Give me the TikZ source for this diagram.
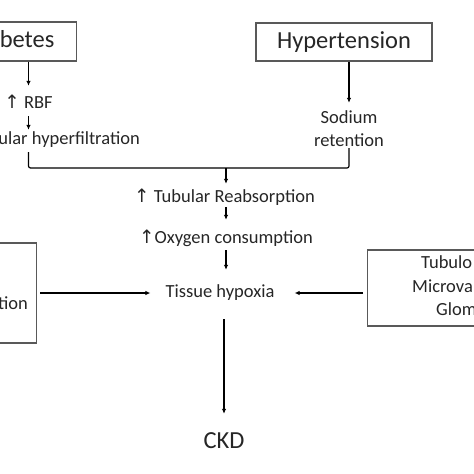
\documentclass[tikz,border=0pt]{standalone}
\usepackage{fontspec}
\setmainfont{Carlito}
\newfontfamily\arrowfont{DejaVu Sans}
\usetikzlibrary{arrows.meta}
\newcommand{\incr}{{\arrowfont ↑}}
\begin{document}
\begin{tikzpicture}[x=1pt, y=-1pt,
    base/.style={font=\fontsize{18.5}{23}\selectfont, inner sep=0pt, text=black!85},
    txt/.style={base, text height=12pt, text depth=4pt},
    big/.style={font=\fontsize{24.5}{29}\selectfont, inner sep=0pt, text height=17pt, text depth=5pt, text=black!85},
    box/.style={draw=black!65, line width=1.1pt},
    arr/.style={-{Latex[length=5pt,width=4.5pt]}, line width=1.2pt},
  ]
    \useasboundingbox (0,0) rectangle (474,474);
    \clip (0,0) rectangle (474,474);
    \node[box, big, anchor=east, minimum height=39pt, text width=75pt, align=right, inner xsep=22pt] (diab) at (77,41.5) {betes};
    \node[box, big, minimum width=176pt, minimum height=38pt] (hyp) at (344,42) {Hypertension};
    \node[txt] (rbf) at (28.5,104) {\incr\ RBF};
    \node[txt, anchor=east] (hf) at (140,140) {ular hyperfiltration};
    \node[base, align=center] (sod) at (349,129) {Sodium\\retention};
    \coordinate (merge) at (226,168);
    \node[txt] (tra) at (224.5,198) {\incr\ Tubular Reabsorption};
    \node[txt] (oxy) at (226,239) {\incr Oxygen consumption};
    \node[txt] (tis) at (220,293) {Tissue hypoxia};
    \node[big] (ckd) at (224,442) {CKD};
    \node[box, minimum width=100pt, minimum height=100pt, anchor=east] (lbox) at (37,293) {};
    \node[txt, anchor=east] (ltxt) at (28,305) {tion};
    \node[box, minimum width=150pt, minimum height=76pt, anchor=west] (rbox) at (367,288) {};
    \node[txt, anchor=west] (tub) at (421,264) {Tubulo};
    \node[txt, anchor=west] (mic) at (412,288) {Microva};
    \node[txt, anchor=west] (glo) at (436,311) {Glom};
    \draw[arr, shorten >=10pt] (diab.south -| rbf) -- (rbf);
    \draw[arr, shorten <=4pt, shorten >=2pt] (rbf) -- (rbf |- hf.north);
    \draw[arr, shorten >=8pt] (hyp.south -| sod) -- (sod);
    \draw[line width=1.2pt, rounded corners=2pt, shorten <=4pt, shorten >=1pt] (rbf |- hf.south) |- (merge) -| (sod);
    \draw[arr, shorten >=6pt] (merge) -- (merge |- tra.north);
    \draw[arr, shorten <=1pt, shorten >=11pt] (oxy |- tra.south) -- (oxy);
    \draw[arr, shorten <=3pt, shorten >=15pt] (oxy) -- (oxy |- tis.north);
    \draw[arr, shorten <=18pt, shorten >=17pt] (ckd |- tis.south) -- (ckd);
    \draw[arr, shorten <=3pt, shorten >=15pt] (lbox.east |- tis) -- (tis);
    \draw[arr, shorten <=4pt, shorten >=20pt] (rbox.west |- tis) -- (tis);
\end{tikzpicture}
\end{document}
